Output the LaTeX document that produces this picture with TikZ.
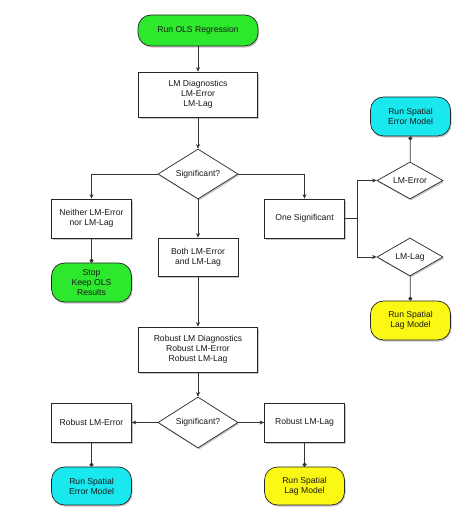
\documentclass[tikz,border=0pt]{standalone}
\usepackage{fontspec}
\setmainfont{Liberation Sans}
\usepackage{tikz}
\usetikzlibrary{shapes.geometric}
\usetikzlibrary{arrows.meta}
\usetikzlibrary{shadows}

\definecolor{olsgreen}{RGB}{45,232,45}
\definecolor{errcyan}{RGB}{25,232,238}
\definecolor{lagyellow}{RGB}{250,248,20}

\begin{document}
\begin{tikzpicture}[
	  x=1pt, y=1pt,
	  block/.style = {draw=black!85, line width=0.7pt, align=center, text=black!90,
	    font=\fontsize{8.6}{10}\selectfont,
	    drop shadow={opacity=0.45, shadow xshift=1pt, shadow yshift=-1.6pt}},
	  box/.style = {block, rectangle, fill=white, minimum width=80pt, minimum height=39pt},
	  widebox/.style = {box, minimum width=119pt, minimum height=45pt},
	  test/.style = {block, diamond, fill=white, aspect=1.6, inner sep=0pt, minimum width=80pt, minimum height=50pt},
	  smalltest/.style = {test, minimum width=66pt, minimum height=38pt},
	  term/.style = {block, rectangle, rounded corners=13pt, minimum width=80pt, minimum height=39pt},
	  flow/.style = {draw=black!80, line width=0.7pt, -{Stealth[length=4.5pt,width=4pt]}},
	  link/.style = {draw=black!80, line width=0.7pt, -{Circle[length=4pt]}}
	]
	  \useasboundingbox (0,0) rectangle (474,527);

	  % main column
	  \node[term, fill=olsgreen, minimum width=120pt, minimum height=31pt] (ols) at (198,496.5) {Run OLS Regression};
	  \node[widebox] (lmdiag) at (198,432.5) {LM Diagnostics\\LM-Error\\LM-Lag};
	  \node[test] (sig1) at (198,353) {Significant?};
	  \node[box] (neither) at (91.5,308.5) {Neither LM-Error\\nor LM-Lag};
	  \node[term, fill=olsgreen] (stop) at (91.5,244.5) {Stop\\Keep OLS\\Results};
	  \node[box, minimum height=38pt] (both) at (198,270) {Both LM-Error\\and LM-Lag};
	  \node[box] (one) at (304.5,308.5) {One Significant};

	  % right branch
	  \node[smalltest, minimum height=37pt] (lmerr) at (410,346.5) {LM-Error};
	  \node[term, fill=errcyan] (errR) at (410.5,410.5) {Run Spatial\\Error Model};
	  \node[smalltest] (lmlag) at (410,270) {LM-Lag};
	  \node[term, fill=lagyellow] (lagR) at (410.5,206.5) {Run Spatial\\Lag Model};
	  \coordinate (split) at (357,308.5);

	  % robust tests
	  \node[widebox] (robdiag) at (198,177.5) {Robust LM Diagnostics\\Robust LM-Error\\Robust LM-Lag};
	  \node[test, minimum height=51pt] (sig2) at (198,104.5) {Significant?};
	  \node[box] (roberr) at (91.5,104.5) {Robust LM-Error};
	  \node[box] (roblag) at (304.5,104.5) {Robust LM-Lag};
	  \node[term, fill=errcyan, minimum height=38pt] (errB) at (91.5,41) {Run Spatial\\Error Model};
	  \node[term, fill=lagyellow, minimum height=38pt] (lagB) at (304.5,41) {Run Spatial\\Lag Model};

	  \draw[flow] (ols) -- (lmdiag);
	  \draw[flow] (lmdiag) -- (sig1);
	  \draw[flow] (sig1.west) -| (neither.north);
	  \draw[flow] (sig1.east) -| (one.north);
	  \draw[flow] (sig1) -- (both);
	  \draw[link] (neither) -- (stop);
	  \draw[flow] (both) -- (robdiag);
	  \draw[draw=black!80, line width=0.7pt] (one.east) -- (split);
	  \draw[flow] (split) |- (lmerr.west);
	  \draw[flow] (split) |- (lmlag.west);
	  \draw[link] (lmerr) -- (errR);
	  \draw[link] (lmlag) -- (lagR);
	  \draw[flow] (robdiag) -- (sig2);
	  \draw[flow] (sig2) -- (roberr);
	  \draw[flow] (sig2) -- (roblag);
	  \draw[link] (roberr) -- (errB);
	  \draw[link] (roblag) -- (lagB);
	\end{tikzpicture}
\end{document}
